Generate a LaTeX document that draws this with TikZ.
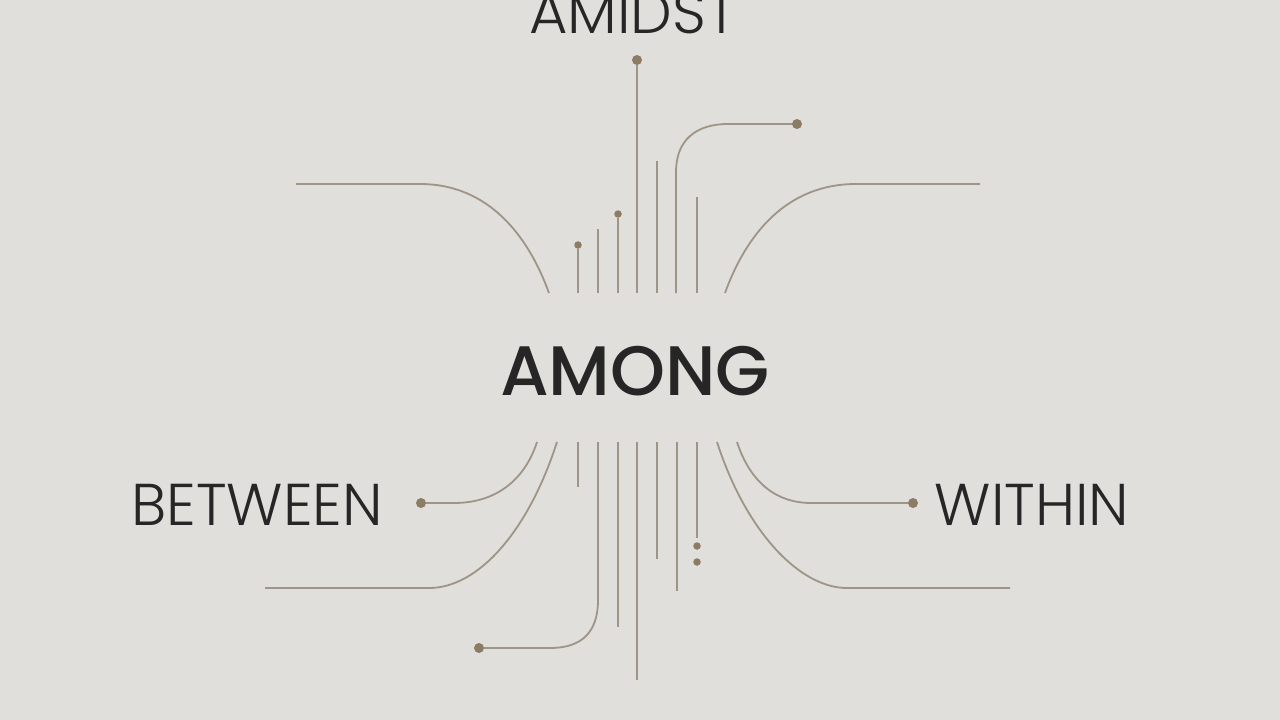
\documentclass[tikz,border=0pt]{standalone}
\usepackage{fontspec}
\setmainfont{Poppins}
\newfontfamily\lightfont{Poppins Light}
\newfontfamily\mediumfont{Poppins Medium}
\definecolor{bg}{RGB}{224,223,219}
\definecolor{wire}{RGB}{158,149,134}
\definecolor{dotc}{RGB}{140,124,100}
\definecolor{ink}{RGB}{38,38,38}
\begin{document}
\begin{tikzpicture}[x=1pt,y=-1pt,
  wireline/.style={draw=wire,line width=1.8pt},
  enddot/.style={circle,fill=dotc,inner sep=0pt,minimum size=10pt},
  smalldot/.style={circle,fill=dotc,inner sep=0pt,minimum size=7.5pt},
  sidelabel/.style={text=ink,font=\lightfont\fontsize{59}{62}\selectfont,inner sep=0pt,anchor=base},
  mainlabel/.style={text=ink,font=\mediumfont\fontsize{70}{74}\selectfont,inner sep=0pt,anchor=base}]
\fill[bg] (0,0) rectangle (1280,720);
\useasboundingbox (0,0) rectangle (1280,720);
% labels
\node[mainlabel] (among) at (635,395) {AMONG};
\node[sidelabel] (amidst) at (633,33) {AMIDST};
\node[sidelabel] (between) at (257,525) {BETWEEN};
\node[sidelabel] (within) at (1032,525) {WITHIN};
% dots
\node[enddot] (dtop) at (637,60) {};
\node[enddot] (dhook) at (797,124) {};
\node[smalldot] (d578) at (578,245) {};
\node[smalldot] (d618) at (618,214) {};
\node[enddot] (dbl) at (421,503) {};
\node[enddot] (dbr) at (913,503) {};
\node[enddot] (dbb) at (479,648) {};
\node[smalldot] (d697a) at (697,546) {};
\node[smalldot] (d697b) at (697,562) {};
% coordinates top
\coordinate (t578) at (578,293);
\coordinate (t598a) at (598,229); \coordinate (t598) at (598,293);
\coordinate (t618) at (618,293);
\coordinate (t637) at (637,293);
\coordinate (t657a) at (657,161); \coordinate (t657) at (657,293);
\coordinate (t676) at (676,293);
\coordinate (t697a) at (697,197); \coordinate (t697) at (697,293);
\coordinate (tl0) at (296,184); \coordinate (tl1) at (549,293);
\coordinate (tr0) at (725,293); \coordinate (tr1) at (980,184);
% coordinates bottom
\coordinate (b578) at (578,442); \coordinate (b578e) at (578,487);
\coordinate (b598) at (598,442);
\coordinate (b618) at (618,442); \coordinate (b618e) at (618,627);
\coordinate (b637) at (637,442); \coordinate (b637e) at (637,680);
\coordinate (b657) at (657,442); \coordinate (b657e) at (657,559);
\coordinate (b677) at (677,442); \coordinate (b677e) at (677,591);
\coordinate (b697) at (697,442); \coordinate (b697e) at (697,538);
\coordinate (bli) at (537,442); \coordinate (blo) at (557,442); \coordinate (blo1) at (265,588);
\coordinate (bri) at (737,442); \coordinate (bro) at (717,442); \coordinate (bro1) at (1010,588);
% top wires
\draw[wireline] (d578) -- (t578);
\draw[wireline] (t598a) -- (t598);
\draw[wireline] (d618) -- (t618);
\draw[wireline] (dtop) -- (t637);
\draw[wireline] (t657a) -- (t657);
\draw[wireline] (t697a) -- (t697);
\draw[wireline] (t676) -- (676,172) .. controls (676,140) and (696,124) .. (728,124) -- (dhook);
\draw[wireline] (tl0) -- (420,184) .. controls (488,184) and (528,235) .. (tl1);
\draw[wireline] (tr0) .. controls (746,235) and (786,184) .. (856,184) -- (tr1);
% bottom wires
\draw[wireline] (b578) -- (b578e);
\draw[wireline] (b598) -- (598,600) .. controls (598,632) and (582,648) .. (550,648) -- (dbb);
\draw[wireline] (b618) -- (b618e);
\draw[wireline] (b637) -- (b637e);
\draw[wireline] (b657) -- (b657e);
\draw[wireline] (b677) -- (b677e);
\draw[wireline] (b697) -- (b697e);
\draw[wireline] (bli) .. controls (524,482) and (494,503) .. (454,503) -- (dbl);
\draw[wireline] (blo) .. controls (528,532) and (478,588) .. (429,588) -- (blo1);
\draw[wireline] (bri) .. controls (750,482) and (776,503) .. (811,503) -- (dbr);
\draw[wireline] (bro) .. controls (746,532) and (800,588) .. (847,588) -- (bro1);
\end{tikzpicture}
\end{document}
